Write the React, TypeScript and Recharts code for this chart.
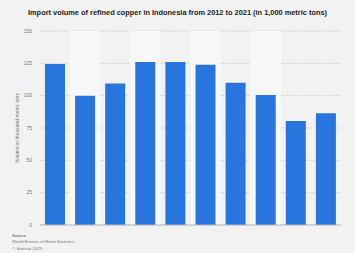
import React from "react";
import { BarChart, Bar, XAxis, YAxis, CartesianGrid, ReferenceArea, ReferenceLine } from "recharts";

const years = ["2012", "2013", "2014", "2015", "2016", "2017", "2018", "2019", "2020", "2021"];
const volumes = [124.5, 100, 109.5, 126, 126, 124, 110, 100.5, 80.5, 86.5];
const yTicks = [0, 25, 50, 75, 100, 125, 150];
const stripeYears = ["2013", "2015", "2017", "2019", "2021"];

const data = years.map((y, i) => ({ year: y, value: volumes[i] }));

const FONT = "'Liberation Sans', Arial, sans-serif";

export default function App() {
  return (
    <div style={{ position: "fixed", left: 0, top: 0, width: 355, height: 253, background: "#f2f2f2", fontFamily: FONT, overflow: "hidden" }}>
      <div style={{ position: "absolute", left: 0, top: 8, width: 355, textAlign: "center", fontSize: 7.4, fontWeight: "bold", color: "#222" }}>
        Import volume of refined copper in Indonesia from 2012 to 2021 (in 1,000 metric tons)
      </div>
      <BarChart
        width={355}
        height={253}
        data={data}
        margin={{ top: 31, right: 14, bottom: 28, left: 0 }}
        barCategoryGap={5}
        style={{ position: "absolute", left: 0, top: 0 }}
      >
        {stripeYears.map((y) => (
          <ReferenceArea key={y} x1={y} x2={y} fill="#f8f8f8" fillOpacity={1} stroke="none" />
        ))}
        <CartesianGrid vertical={false} stroke="#dadada" strokeDasharray="5 1" />
        <XAxis dataKey="year" hide />
        <YAxis
          width={40}
          domain={[0, 150]}
          ticks={yTicks}
          axisLine={false}
          tickLine={false}
          tick={{ fontSize: 5, fill: "#777", fontFamily: FONT }}
          label={{ value: "Volume in thousand metric tons", angle: -90, position: "insideLeft", offset: 17, style: { fontSize: 5, fill: "#777", fontFamily: FONT, textAnchor: "middle" } }}
        />
        <ReferenceLine y={0} stroke="#b8b8b8" strokeWidth={1} />
        <Bar dataKey="value" fill="#2876dd" isAnimationActive={false} />
      </BarChart>
      <div style={{ position: "absolute", left: 12, top: 232.5, fontSize: 4.4, lineHeight: "6.8px", color: "#444" }}>
        <div>Source</div>
        <div style={{ color: "#777" }}>World Bureau of Metal Statistics</div>
        <div style={{ color: "#777" }}>© Statista 2025</div>
      </div>
    </div>
  );
}
